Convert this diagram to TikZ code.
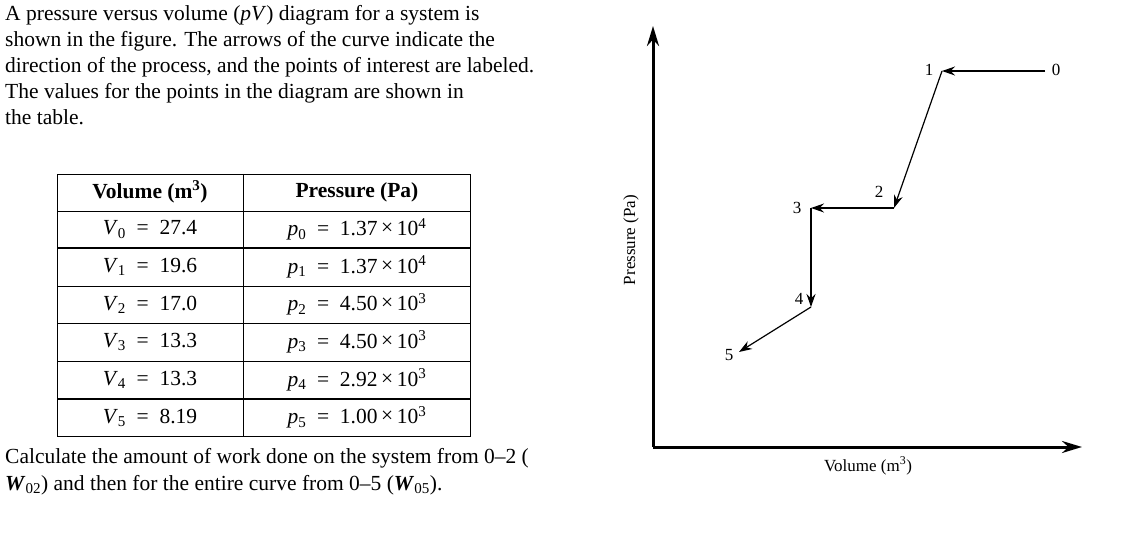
\documentclass[tikz,border=0pt]{standalone}
\usepackage{fontspec}
\setmainfont{Liberation Serif}
\usetikzlibrary{arrows.meta}
\newcommand{\mvar}[2]{\textit{#1}\textsubscript{#2}}
\newcommand{\tms}{\,\raisebox{0.1ex}{×}\,}
\newcommand{\eqs}{\enspace=\enspace}
\begin{document}
\begin{tikzpicture}[x=1pt,y=-1pt,
  txt/.style={anchor=base west,inner sep=0pt,font=\fontsize{21.5}{25}\selectfont},
  cell/.style={inner sep=0pt,font=\fontsize{21.5}{25}\selectfont},
  lbl/.style={inner sep=0pt,font=\fontsize{17}{20}\selectfont},
  axis/.style={line width=3pt,-{Stealth[length=20pt,width=12pt]}},
  proc/.style={line width=1.2pt,-{Stealth[length=13pt,width=9pt]}}]
\useasboundingbox (0,0) rectangle (1124,545);
% text
\node[txt] (t1) at (5,21) {A pressure versus volume (\textit{pV}) diagram for a system is};
\node[txt] (t2) at (5,47) {shown in the figure. The arrows of the curve indicate the};
\node[txt] (t3) at (5,73) {direction of the process, and the points of interest are labeled.};
\node[txt] (t4) at (5,99) {The values for the points in the diagram are shown in};
\node[txt] (t5) at (5,125) {the table.};
\node[txt] (b1) at (5,463) {Calculate the amount of work done on the system from 0–2 (};
\node[txt] (b2) at (5,490) {\textbf{\textit{W}}\textsubscript{02}) and then for the entire curve from 0–5 (\textbf{\textit{W}}\textsubscript{05}).};
% table
\draw[line width=0.8pt] (57,174) rectangle (470,436);
\draw[line width=0.8pt] (243,174) -- (243,436);
\foreach \y in {211,286,323,361} \draw[line width=0.8pt] (57,\y) -- (470,\y);
\foreach \y in {248,399} \draw[line width=1.5pt] (57,\y) -- (470,\y);
\node[cell] (h1) at (150,192) {\textbf{Volume (m\textsuperscript{3})}};
\node[cell] (h2) at (357,192) {\textbf{Pressure (Pa)}};
\foreach \i/\y/\v/\p/\e in {0/229.5/27.4/1.37/4,1/267/19.6/1.37/4,2/304.5/17.0/4.50/3,3/342/13.3/4.50/3,4/380/13.3/2.92/3,5/417.5/8.19/1.00/3}{
  \node[cell] (v\i) at (150,\y) {\mvar{V}{\i}\eqs\v};
  \node[cell] (p\i) at (357,\y) {\mvar{p}{\i}\eqs\p\tms 10\textsuperscript{\e}};
}
% graph
\coordinate (O) at (653,447);
\coordinate (yt) at (653,26);
\coordinate (xt) at (1082,447);
\draw[axis] (O) -- (yt);
\draw[axis] (O) -- (xt);
\coordinate (P0) at (1045,71);
\coordinate (P1) at (942,71);
\coordinate (P2) at (894,208);
\coordinate (P3) at (811,208);
\coordinate (P4) at (811,307);
\coordinate (P5) at (739,352);
\draw[proc] (P0) -- (P1);
\draw[proc] (P1) -- (P2);
\draw[proc] (P2) -- (P3);
\draw[proc] (P3) -- (P4);
\draw[proc] (P4) -- (P5);
\node[lbl] (l0) at (1056,70) {0};
\node[lbl] (l1) at (929,70) {1};
\node[lbl] (l2) at (879,192) {2};
\node[lbl] (l3) at (797,208) {3};
\node[lbl] (l4) at (799,299) {4};
\node[lbl] (l5) at (729,355) {5};
\node[lbl] (xl) at (868,466) {Volume (m\textsuperscript{3})};
\node[lbl,rotate=90] (yl) at (631,240) {Pressure (Pa)};
\end{tikzpicture}
\end{document}
